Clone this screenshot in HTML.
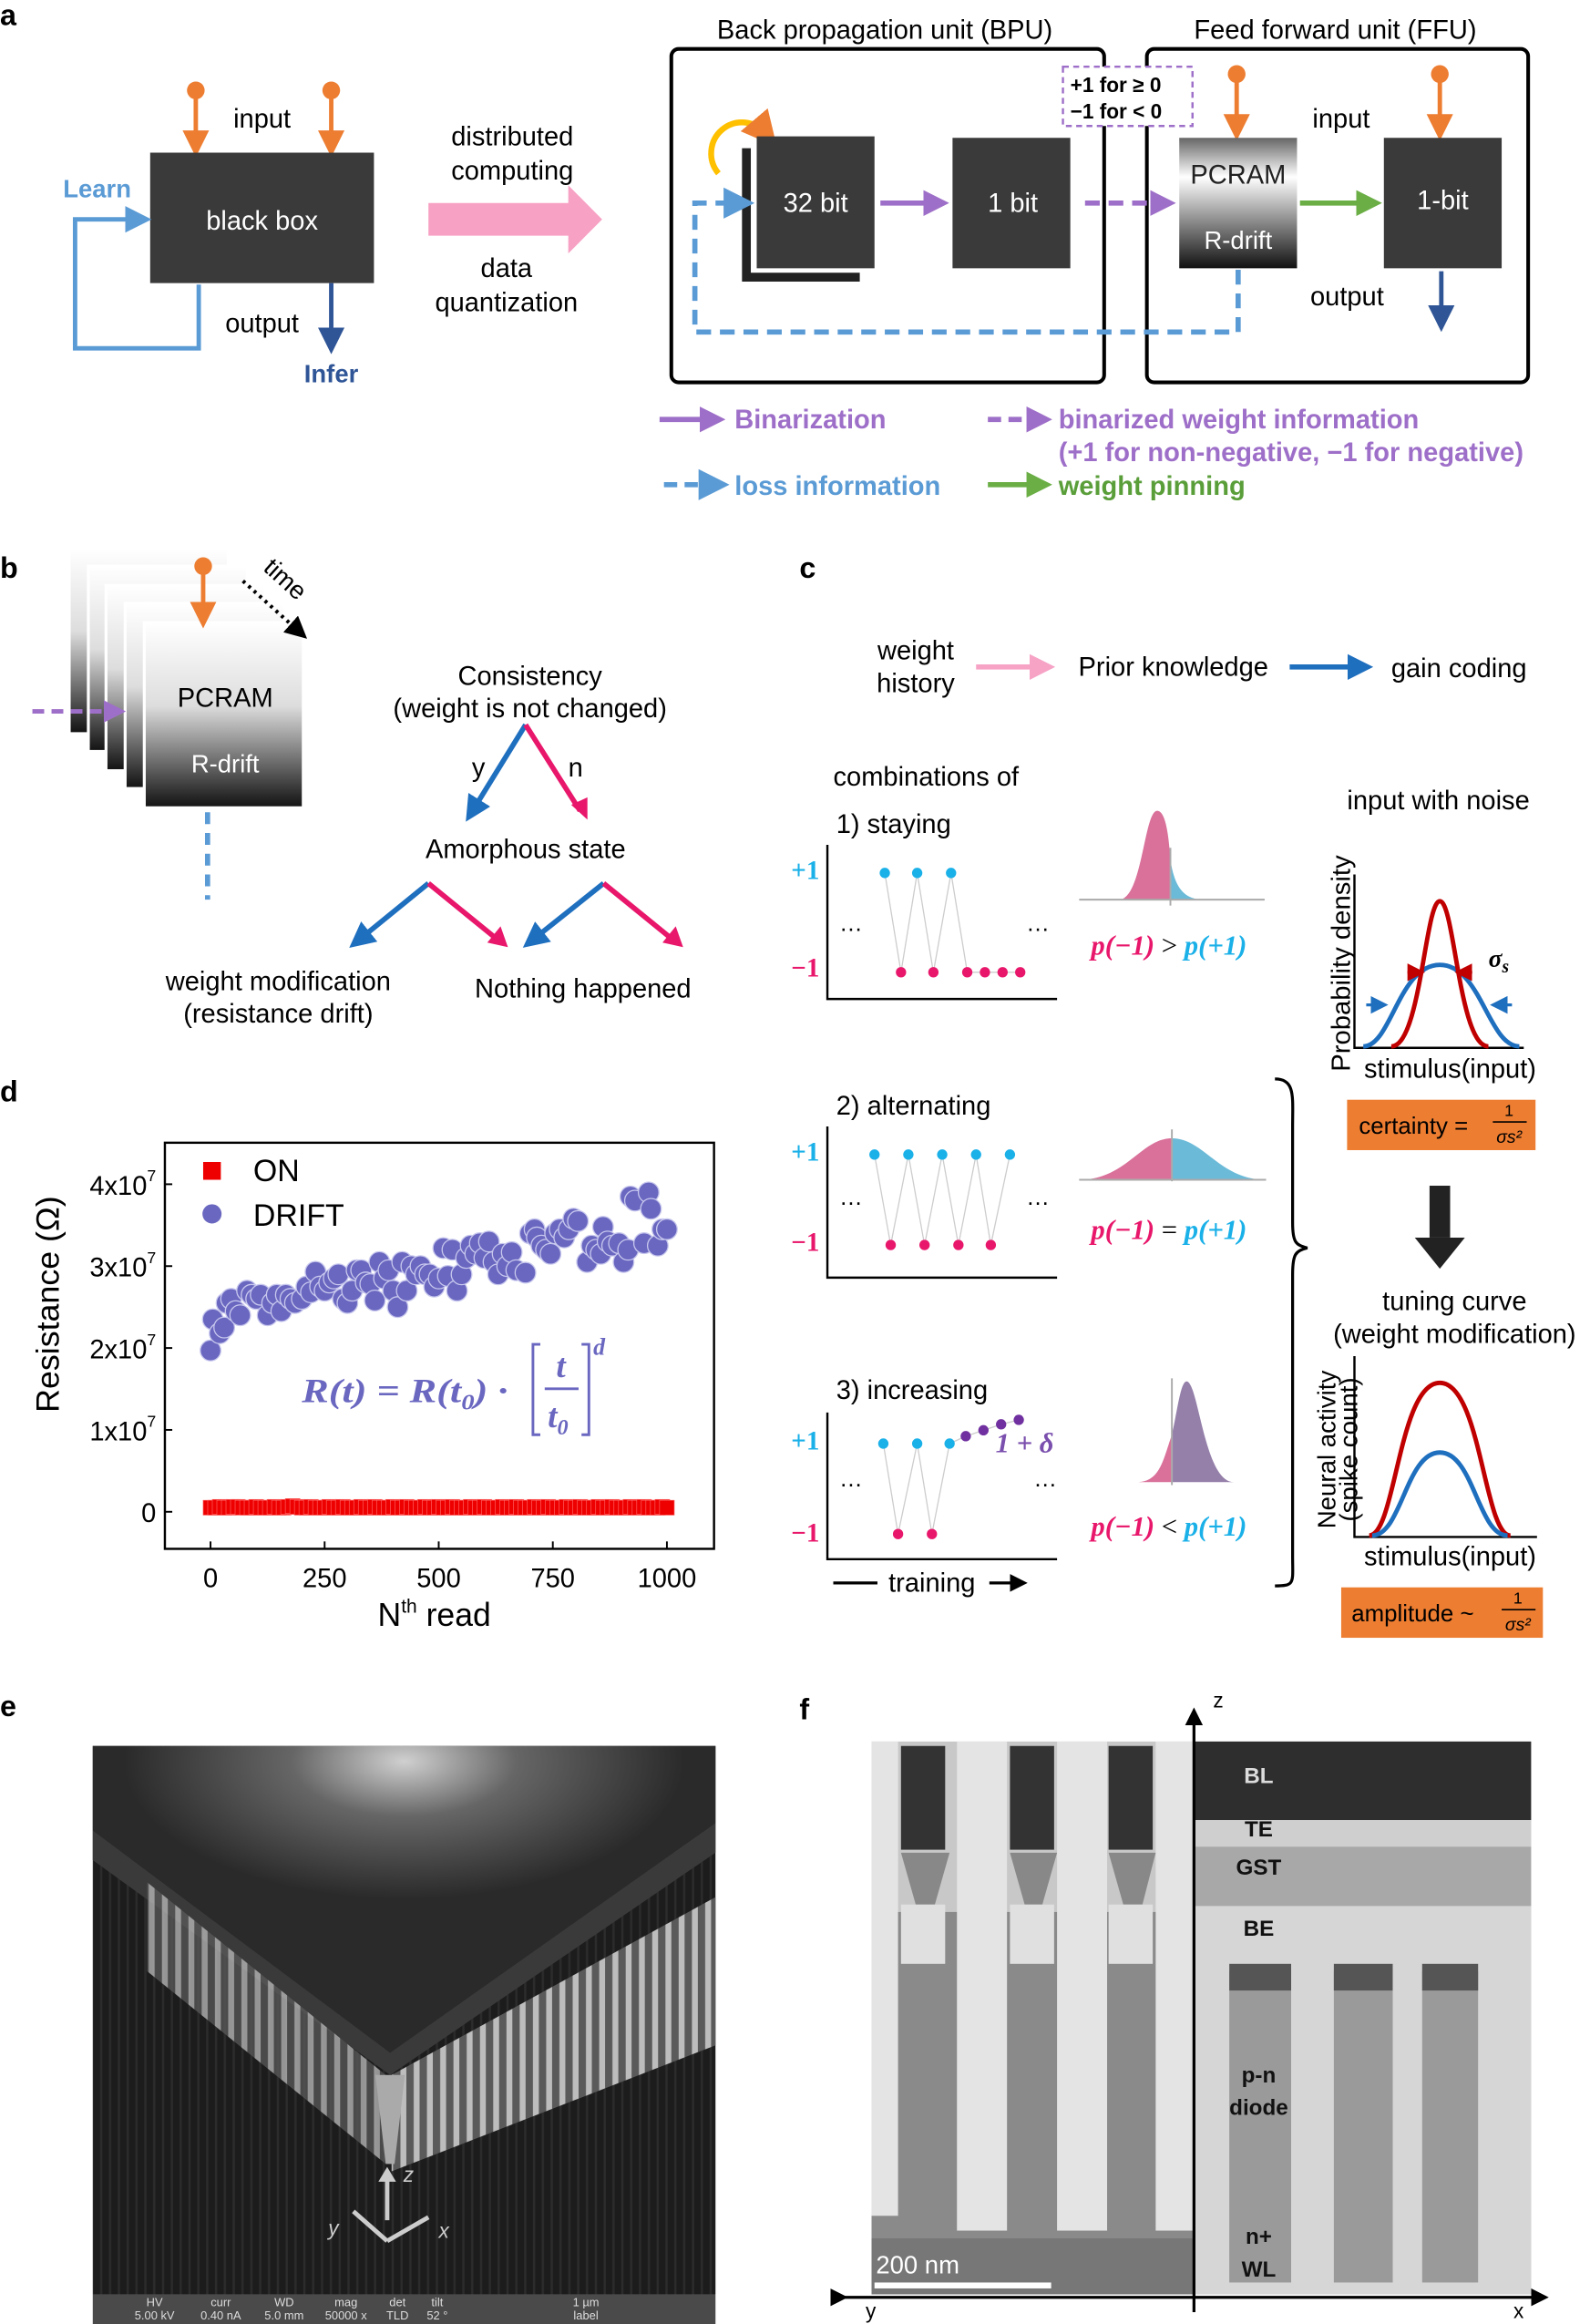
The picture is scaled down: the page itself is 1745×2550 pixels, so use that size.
<!DOCTYPE html>
<html><head><meta charset="utf-8"><style>
html,body{margin:0;padding:0;background:#fff;}
svg{display:block;}
text{font-family:"Liberation Sans",sans-serif;}
.m{font-family:"Liberation Serif",serif;font-weight:bold;font-style:italic;}
</style></head><body>
<svg id="fig" width="1745" height="2550" viewBox="0 0 1080 1568" preserveAspectRatio="none" xmlns="http://www.w3.org/2000/svg">
<defs>
<marker id="aOr" markerWidth="6" markerHeight="6" refX="3" refY="3" orient="auto"><path d="M0,0L6,3L0,6Z" fill="#ed7d31"/></marker>
<marker id="aBl" markerWidth="6" markerHeight="6" refX="3" refY="3" orient="auto"><path d="M0,0L6,3L0,6Z" fill="#5b9bd5"/></marker>
<marker id="aDb" markerWidth="6" markerHeight="6" refX="3" refY="3" orient="auto"><path d="M0,0L6,3L0,6Z" fill="#2f5597"/></marker>
<marker id="aPu" markerWidth="5" markerHeight="5" refX="2.5" refY="2.5" orient="auto"><path d="M0,0L5,2.5L0,5Z" fill="#9e6fc8"/></marker>
<marker id="aGr" markerWidth="5" markerHeight="5" refX="2.5" refY="2.5" orient="auto"><path d="M0,0L5,2.5L0,5Z" fill="#6aae45"/></marker>
<marker id="aPk" markerWidth="5" markerHeight="5" refX="2.5" refY="2.5" orient="auto"><path d="M0,0L5,2.5L0,5Z" fill="#f6a3c6"/></marker>
<marker id="aB2" markerWidth="5" markerHeight="5" refX="2.5" refY="2.5" orient="auto"><path d="M0,0L5,2.5L0,5Z" fill="#1f6fbf"/></marker>
<marker id="aK" markerWidth="6" markerHeight="6" refX="3" refY="3" orient="auto"><path d="M0,0L6,3L0,6Z" fill="#000"/></marker>
<marker id="aRd" markerWidth="6" markerHeight="6" refX="3" refY="3" orient="auto"><path d="M0,0L6,3L0,6Z" fill="#c00000"/></marker>
<marker id="aBb" markerWidth="6" markerHeight="6" refX="3" refY="3" orient="auto"><path d="M0,0L6,3L0,6Z" fill="#1f6fbf"/></marker>
<linearGradient id="pcg" x1="0" y1="0" x2="0" y2="1"><stop offset="0" stop-color="#666"/><stop offset="0.3" stop-color="#fff"/><stop offset="0.6" stop-color="#999"/><stop offset="1" stop-color="#111"/></linearGradient>
<linearGradient id="pcb" x1="0" y1="0" x2="0" y2="1"><stop offset="0" stop-color="#fff"/><stop offset="0.45" stop-color="#ddd"/><stop offset="1" stop-color="#111"/></linearGradient>
<radialGradient id="semg" cx="0.5" cy="0.05" r="0.45"><stop offset="0" stop-color="#d0d0d0"/><stop offset="0.4" stop-color="#666"/><stop offset="1" stop-color="#2a2a2a"/></radialGradient>
<pattern id="stripes" width="9" height="10" patternUnits="userSpaceOnUse"><rect width="9" height="10" fill="#5a5a5a"/><rect x="2" width="4" height="10" fill="#bdbdbd"/></pattern>
<pattern id="stripesD" width="6" height="10" patternUnits="userSpaceOnUse"><rect width="6" height="10" fill="#1c1c1c"/><rect x="2" width="1.5" height="10" fill="#2c2c2c"/></pattern>
</defs>

<!-- Panel a -->
<g>
<text x="0" y="17" font-size="20" font-weight="bold">a</text>
<line x1="133" y1="62" x2="133" y2="97" stroke="#ed7d31" stroke-width="3" marker-end="url(#aOr)"/>
<circle cx="133" cy="61" r="6" fill="#ed7d31"/>
<line x1="225" y1="62" x2="225" y2="97" stroke="#ed7d31" stroke-width="3" marker-end="url(#aOr)"/>
<circle cx="225" cy="61" r="6" fill="#ed7d31"/>
<text x="178" y="86" font-size="18" text-anchor="middle">input</text>
<rect x="102" y="103" width="152" height="88" fill="#3a3a3a"/>
<text x="178" y="155" font-size="18" fill="#fff" text-anchor="middle">black box</text>
<text x="66" y="133" font-size="17" font-weight="bold" fill="#5b9bd5" text-anchor="middle">Learn</text>
<polyline points="135,192 135,235 51,235 51,148 94,148" fill="none" stroke="#5b9bd5" stroke-width="3" marker-end="url(#aBl)"/>
<text x="178" y="224" font-size="18" text-anchor="middle">output</text>
<line x1="225" y1="191" x2="225" y2="230" stroke="#2f5597" stroke-width="3" marker-end="url(#aDb)"/>
<text x="225" y="258" font-size="17" font-weight="bold" fill="#2f5597" text-anchor="middle">Infer</text>
<polygon points="291,137 386,137 386,125 409,148 386,171 386,159 291,159" fill="#f7a1c4"/>
<text x="348" y="98" font-size="18" text-anchor="middle">distributed</text>
<text x="348" y="121" font-size="18" text-anchor="middle">computing</text>
<text x="344" y="187" font-size="18" text-anchor="middle">data</text>
<text x="344" y="210" font-size="18" text-anchor="middle">quantization</text>

<text x="601" y="26" font-size="18" text-anchor="middle">Back propagation unit (BPU)</text>
<rect x="456" y="33" width="294" height="225" rx="5" fill="none" stroke="#000" stroke-width="2.5"/>
<text x="907" y="26" font-size="18" text-anchor="middle">Feed forward unit (FFU)</text>
<rect x="779" y="33" width="259" height="225" rx="5" fill="none" stroke="#000" stroke-width="2.5"/>
<path d="M488,117 A20,20 0 1 1 520,90" fill="none" stroke="#ffc000" stroke-width="4" marker-end="url(#aOr)"/>
<rect x="504" y="100" width="80" height="90" fill="#222"/>
<rect x="510" y="96" width="80" height="88" fill="#fff"/>
<rect x="514" y="92" width="80" height="89" fill="#3a3a3a"/>
<text x="554" y="143" font-size="18" fill="#fff" text-anchor="middle">32 bit</text>
<line x1="598" y1="137" x2="636" y2="137" stroke="#9e6fc8" stroke-width="3.5" marker-end="url(#aPu)"/>
<rect x="647" y="93" width="80" height="88" fill="#3a3a3a"/>
<text x="688" y="143" font-size="18" fill="#fff" text-anchor="middle">1 bit</text>
<line x1="737" y1="137" x2="790" y2="137" stroke="#9e6fc8" stroke-width="3.5" stroke-dasharray="10,6" marker-end="url(#aPu)"/>
<rect x="722" y="45" width="88" height="40" fill="#fff" stroke="#9e6fc8" stroke-width="1.5" stroke-dasharray="4,3"/>
<text x="727" y="62" font-size="14" font-family="Liberation Serif" font-weight="bold">+1 for ≥ 0</text>
<text x="727" y="80" font-size="14" font-family="Liberation Serif" font-weight="bold">−1 for &lt; 0</text>
<line x1="840" y1="54" x2="840" y2="86" stroke="#ed7d31" stroke-width="3" marker-end="url(#aOr)"/>
<circle cx="840" cy="50" r="6" fill="#ed7d31"/>
<line x1="978" y1="54" x2="978" y2="86" stroke="#ed7d31" stroke-width="3" marker-end="url(#aOr)"/>
<circle cx="978" cy="50" r="6" fill="#ed7d31"/>
<text x="911" y="86" font-size="18" text-anchor="middle">input</text>
<rect x="801" y="93" width="80" height="88" fill="url(#pcg)"/>
<text x="841" y="124" font-size="18" text-anchor="middle" fill="#222">PCRAM</text>
<text x="841" y="168" font-size="17" text-anchor="middle" fill="#fff">R-drift</text>
<line x1="883" y1="137" x2="930" y2="137" stroke="#6aae45" stroke-width="3.5" marker-end="url(#aGr)"/>
<rect x="940" y="93" width="80" height="88" fill="#3a3a3a"/>
<text x="980" y="141" font-size="18" fill="#fff" text-anchor="middle">1-bit</text>
<text x="915" y="206" font-size="18" text-anchor="middle">output</text>
<line x1="979" y1="183" x2="979" y2="215" stroke="#2f5597" stroke-width="3" marker-end="url(#aDb)"/>
<polyline points="841,182 841,224 472,224 472,137 502,137" fill="none" stroke="#5b9bd5" stroke-width="3.5" stroke-dasharray="10,6" marker-end="url(#aBl)"/>
<g font-size="18" font-weight="bold">
<line x1="448" y1="283" x2="484" y2="283" stroke="#9e6fc8" stroke-width="3.5" marker-end="url(#aPu)"/>
<text x="499" y="289" fill="#9e6fc8">Binarization</text>
<line x1="671" y1="283" x2="706" y2="283" stroke="#9e6fc8" stroke-width="3.5" stroke-dasharray="9,5" marker-end="url(#aPu)"/>
<text x="719" y="289" fill="#9e6fc8">binarized weight information</text>
<text x="719" y="311" fill="#9e6fc8">(+1 for non-negative, −1 for negative)</text>
<line x1="451" y1="327" x2="485" y2="327" stroke="#5b9bd5" stroke-width="3.5" stroke-dasharray="9,5" marker-end="url(#aBl)"/>
<text x="499" y="334" fill="#5b9bd5">loss information</text>
<line x1="671" y1="327" x2="706" y2="327" stroke="#6aae45" stroke-width="3.5" marker-end="url(#aGr)"/>
<text x="719" y="334" fill="#5a9e3a">weight pinning</text>
</g>
</g>

<!-- Panel b -->
<g>
<text x="0" y="390" font-size="20" font-weight="bold">b</text>
<rect x="47" y="370" width="108" height="125" fill="url(#pcb)" stroke="#fff" stroke-width="2"/>
<rect x="60" y="382" width="108" height="125" fill="url(#pcb)" stroke="#fff" stroke-width="2"/>
<rect x="72" y="395" width="108" height="125" fill="url(#pcb)" stroke="#fff" stroke-width="2"/>
<rect x="85" y="407" width="108" height="125" fill="url(#pcb)" stroke="#fff" stroke-width="2"/>
<rect x="98" y="420" width="108" height="125" fill="url(#pcb)" stroke="#fff" stroke-width="2"/>
<text x="153" y="477" font-size="18" text-anchor="middle">PCRAM</text>
<text x="153" y="521" font-size="17" text-anchor="middle" fill="#fff">R-drift</text>
<line x1="138" y1="386" x2="138" y2="415" stroke="#ed7d31" stroke-width="3" marker-end="url(#aOr)"/>
<circle cx="138" cy="382" r="6" fill="#ed7d31"/>
<line x1="165" y1="392" x2="203" y2="426" stroke="#000" stroke-width="2.5" stroke-dasharray="2,3" marker-end="url(#aK)"/>
<text x="190" y="395" font-size="17" transform="rotate(42 190 395)" text-anchor="middle">time</text>
<line x1="22" y1="480" x2="78" y2="480" stroke="#9e6fc8" stroke-width="3" stroke-dasharray="8,5" marker-end="url(#aPu)"/>
<line x1="141" y1="548" x2="141" y2="607" stroke="#5b9bd5" stroke-width="3.5" stroke-dasharray="8,6"/>
<text x="360" y="462" font-size="18" text-anchor="middle">Consistency</text>
<text x="360" y="484" font-size="18" text-anchor="middle">(weight is not changed)</text>
<line x1="357" y1="489" x2="321" y2="547" stroke="#1f6fbf" stroke-width="3.5" marker-end="url(#aB2)"/>
<line x1="357" y1="489" x2="394" y2="547" stroke="#e8176b" stroke-width="3.5"/>
<polygon points="388,543 399,553 399,538" fill="#e8176b"/>
<text x="325" y="524" font-size="18" text-anchor="middle">y</text>
<text x="391" y="524" font-size="18" text-anchor="middle">n</text>
<text x="357" y="579" font-size="18" text-anchor="middle">Amorphous state</text>
<line x1="291" y1="596" x2="244" y2="634" stroke="#1f6fbf" stroke-width="3.5" marker-end="url(#aB2)"/>
<line x1="291" y1="596" x2="338" y2="634" stroke="#e8176b" stroke-width="3.5"/>
<polygon points="331,636 345,639 340,625" fill="#e8176b"/>
<line x1="410" y1="596" x2="362" y2="634" stroke="#1f6fbf" stroke-width="3.5" marker-end="url(#aB2)"/>
<line x1="410" y1="596" x2="457" y2="634" stroke="#e8176b" stroke-width="3.5"/>
<polygon points="450,636 464,639 459,625" fill="#e8176b"/>
<text x="189" y="668" font-size="18" text-anchor="middle">weight modification</text>
<text x="189" y="690" font-size="18" text-anchor="middle">(resistance drift)</text>
<text x="396" y="673" font-size="18" text-anchor="middle">Nothing happened</text>
</g>

<!-- Panel c -->
<g>
<text x="543" y="390" font-size="20" font-weight="bold">c</text>
<text x="622" y="445" font-size="18" text-anchor="middle">weight</text>
<text x="622" y="467" font-size="18" text-anchor="middle">history</text>
<line x1="663" y1="450" x2="708" y2="450" stroke="#f6a3c6" stroke-width="3.5" marker-end="url(#aPk)"/>
<text x="797" y="456" font-size="18" text-anchor="middle">Prior knowledge</text>
<line x1="876" y1="450" x2="924" y2="450" stroke="#1f6fbf" stroke-width="3.5" marker-end="url(#aB2)"/>
<text x="991" y="457" font-size="18" text-anchor="middle">gain coding</text>
<text x="629" y="530" font-size="18" text-anchor="middle">combinations of</text>

<text x="568" y="562" font-size="18">1) staying</text>
<polyline points="562,570 562,674 718,674" fill="none" stroke="#000" stroke-width="1.5"/>
<text x="547" y="593" font-size="18" fill="#1ab0e8" text-anchor="middle" class="m" style="font-style:normal">+1</text>
<text x="547" y="659" font-size="18" fill="#e8176b" text-anchor="middle" class="m" style="font-style:normal">−1</text>
<polyline points="601,589 612,656 623,589 634,656 646,589 657,656 693,656" fill="none" stroke="#ccc" stroke-width="0.8"/>
<g fill="#1ab0e8"><circle cx="601" cy="589" r="3.5"/><circle cx="623" cy="589" r="3.5"/><circle cx="646" cy="589" r="3.5"/></g>
<g fill="#e8176b"><circle cx="612" cy="656" r="3.5"/><circle cx="634" cy="656" r="3.5"/><circle cx="657" cy="656" r="3.5"/><circle cx="669" cy="656" r="3.5"/><circle cx="681" cy="656" r="3.5"/><circle cx="693" cy="656" r="3.5"/></g>
<text x="578" y="628" font-size="16" text-anchor="middle">…</text>
<text x="705" y="628" font-size="16" text-anchor="middle">…</text>
<path d="M733,607 L760,607 C776,607 777,547 786,547 C792,547 794,565 795,580 L795,607Z" fill="#d9719a"/>
<path d="M795,580 C798,600 805,607 818,607 L795,607Z" fill="#6bbad8"/>
<line x1="733" y1="607" x2="859" y2="607" stroke="#aaa" stroke-width="1.2"/>
<line x1="795" y1="572" x2="795" y2="611" stroke="#aaa" stroke-width="1.2"/>
<text x="794" y="644" font-size="19" text-anchor="middle" class="m"><tspan fill="#e8176b">p(−1)</tspan><tspan fill="#000" font-style="normal" font-weight="normal"> &gt; </tspan><tspan fill="#1ab0e8">p(+1)</tspan></text>

<text x="568" y="752" font-size="18">2)  alternating</text>
<polyline points="562,760 562,862 718,862" fill="none" stroke="#000" stroke-width="1.5"/>
<text x="547" y="783" font-size="18" fill="#1ab0e8" text-anchor="middle" class="m" style="font-style:normal">+1</text>
<text x="547" y="844" font-size="18" fill="#e8176b" text-anchor="middle" class="m" style="font-style:normal">−1</text>
<polyline points="594,779 605,840 617,779 628,840 640,779 651,840 663,779 673,840 686,779" fill="none" stroke="#ccc" stroke-width="0.8"/>
<g fill="#1ab0e8"><circle cx="594" cy="779" r="3.5"/><circle cx="617" cy="779" r="3.5"/><circle cx="640" cy="779" r="3.5"/><circle cx="663" cy="779" r="3.5"/><circle cx="686" cy="779" r="3.5"/></g>
<g fill="#e8176b"><circle cx="605" cy="840" r="3.5"/><circle cx="628" cy="840" r="3.5"/><circle cx="651" cy="840" r="3.5"/><circle cx="673" cy="840" r="3.5"/></g>
<text x="578" y="813" font-size="16" text-anchor="middle">…</text>
<text x="705" y="813" font-size="16" text-anchor="middle">…</text>
<path d="M733,796 C765,796 775,768 796,768 L796,796Z" fill="#d9719a"/>
<path d="M796,768 C818,768 828,796 860,796 L796,796Z" fill="#6bbad8"/>
<line x1="733" y1="796" x2="860" y2="796" stroke="#aaa" stroke-width="1.2"/>
<line x1="796" y1="762" x2="796" y2="797" stroke="#aaa" stroke-width="1.2"/>
<text x="794" y="836" font-size="19" text-anchor="middle" class="m"><tspan fill="#e8176b">p(−1)</tspan><tspan fill="#000" font-style="normal" font-weight="normal"> = </tspan><tspan fill="#1ab0e8">p(+1)</tspan></text>

<text x="568" y="944" font-size="18">3) increasing</text>
<polyline points="562,953 562,1052 718,1052" fill="none" stroke="#000" stroke-width="1.5"/>
<text x="547" y="978" font-size="18" fill="#1ab0e8" text-anchor="middle" class="m" style="font-style:normal">+1</text>
<text x="547" y="1040" font-size="18" fill="#e8176b" text-anchor="middle" class="m" style="font-style:normal">−1</text>
<polyline points="600,974 610,1035 623,974 633,1035 645,974 656,969 668,965 680,961 692,958" fill="none" stroke="#ccc" stroke-width="0.8"/>
<g fill="#1ab0e8"><circle cx="600" cy="974" r="3.5"/><circle cx="623" cy="974" r="3.5"/><circle cx="645" cy="974" r="3.5"/></g>
<g fill="#e8176b"><circle cx="610" cy="1035" r="3.5"/><circle cx="633" cy="1035" r="3.5"/></g>
<g fill="#7030a0"><circle cx="656" cy="969" r="3.5"/><circle cx="668" cy="965" r="3.5"/><circle cx="680" cy="961" r="3.5"/><circle cx="692" cy="958" r="3.5"/></g>
<text x="696" y="980" font-size="19" fill="#7a4fad" text-anchor="middle" class="m">1 + δ</text>
<text x="578" y="1003" font-size="16" text-anchor="middle">…</text>
<text x="710" y="1003" font-size="16" text-anchor="middle">…</text>
<path d="M772,1000 C788,1000 790,985 796,968 L796,1000Z" fill="#d9719a"/>
<path d="M796,968 C800,950 802,932 806,932 C814,932 818,1000 838,1000 L796,1000Z" fill="#9580aa"/>
<line x1="796" y1="930" x2="796" y2="1002" stroke="#aaa" stroke-width="1.2"/>
<text x="794" y="1036" font-size="19" text-anchor="middle" class="m"><tspan fill="#e8176b">p(−1)</tspan><tspan fill="#000" font-style="normal" font-weight="normal"> &lt; </tspan><tspan fill="#1ab0e8">p(+1)</tspan></text>
<line x1="566" y1="1068" x2="596" y2="1068" stroke="#000" stroke-width="2"/>
<text x="633" y="1074" font-size="18" text-anchor="middle">training</text>
<line x1="672" y1="1068" x2="692" y2="1068" stroke="#000" stroke-width="2" marker-end="url(#aK)"/>

<path d="M866,728 C880,728 878,740 878,760 L878,825 C878,838 880,840 888,842 C880,844 878,846 878,860 L878,1050 C878,1068 880,1070 866,1070" fill="none" stroke="#000" stroke-width="2"/>

<text x="977" y="546" font-size="18" text-anchor="middle">input with noise</text>
<polyline points="920,590 920,707 1035,707" fill="none" stroke="#000" stroke-width="1.5"/>
<text x="917" y="650" font-size="18" text-anchor="middle" transform="rotate(-90 917 650)">Probability density</text>
<path d="M926,706 C945,706 950,651 978,651 C1006,651 1011,706 1032,706" fill="none" stroke="#1f6fbf" stroke-width="3"/>
<path d="M945,706 C965,706 968,608 978,608 C988,608 991,706 1011,706" fill="none" stroke="#c00000" stroke-width="3"/>
<line x1="956" y1="656" x2="962" y2="656" stroke="#c00000" stroke-width="2" marker-end="url(#aRd)"/>
<line x1="1000" y1="656" x2="994" y2="656" stroke="#c00000" stroke-width="2" marker-end="url(#aRd)"/>
<line x1="928" y1="678" x2="937" y2="678" stroke="#1f6fbf" stroke-width="2" marker-end="url(#aBb)"/>
<line x1="1027" y1="678" x2="1018" y2="678" stroke="#1f6fbf" stroke-width="2" marker-end="url(#aBb)"/>
<text x="1018" y="652" font-size="17" class="m" font-weight="normal" text-anchor="middle">σ<tspan font-size="12" dy="4">s</tspan></text>
<text x="985" y="727" font-size="18" text-anchor="middle">stimulus(input)</text>
<rect x="915" y="742" width="128" height="34" fill="#ed7d31"/>
<text x="923" y="765" font-size="16">certainty =</text>
<text x="1025" y="753" font-size="11" font-family="Liberation Serif" text-anchor="middle">1</text>
<line x1="1014" y1="757" x2="1037" y2="757" stroke="#000" stroke-width="1"/>
<text x="1025" y="771" font-size="12" font-family="Liberation Serif" font-style="italic" text-anchor="middle">σs²</text>
<rect x="971" y="800" width="14" height="35" fill="#222"/>
<polygon points="961,835 995,835 978,856" fill="#222"/>
<text x="988" y="884" font-size="18" text-anchor="middle">tuning curve</text>
<text x="988" y="906" font-size="18" text-anchor="middle">(weight modification)</text>
<polyline points="920,915 920,1037 1044,1037" fill="none" stroke="#000" stroke-width="1.5"/>
<text x="907" y="978" font-size="17" text-anchor="middle" transform="rotate(-90 907 978)">Neural activity</text>
<text x="922" y="978" font-size="17" text-anchor="middle" transform="rotate(-90 922 978)">(spike count)</text>
<path d="M930,1036 C948,1036 950,933 978,933 C1006,933 1008,1036 1026,1036" fill="none" stroke="#c00000" stroke-width="3"/>
<path d="M932,1036 C952,1036 955,980 978,980 C1001,980 1004,1036 1024,1036" fill="none" stroke="#1f6fbf" stroke-width="3"/>
<text x="985" y="1056" font-size="18" text-anchor="middle">stimulus(input)</text>
<rect x="911" y="1071" width="137" height="34" fill="#ed7d31"/>
<text x="918" y="1094" font-size="16">amplitude ~</text>
<text x="1031" y="1082" font-size="11" font-family="Liberation Serif" text-anchor="middle">1</text>
<line x1="1020" y1="1086" x2="1043" y2="1086" stroke="#000" stroke-width="1"/>
<text x="1031" y="1100" font-size="12" font-family="Liberation Serif" font-style="italic" text-anchor="middle">σs²</text>
</g>

<!-- Panel d -->
<g id="pd">
<text x="0" y="743" font-size="20" font-weight="bold">d</text>
<rect x="112" y="771" width="373" height="274" fill="none" stroke="#000" stroke-width="1.5"/>
<text x="40" y="880" font-size="22" text-anchor="middle" transform="rotate(-90 40 880)">Resistance (Ω)</text>
<text x="295" y="1097" font-size="22" text-anchor="middle">N<tspan font-size="13" dy="-9">th</tspan><tspan dy="9"> read</tspan></text>
<rect x="138" y="784" width="12" height="12" fill="#ee0000"/>
<text x="172" y="797" font-size="21">ON</text>
<circle cx="144" cy="819" r="6.5" fill="#6a67c0"/>
<text x="172" y="827" font-size="21">DRIFT</text>
<g id="marks"></g>
<g>
<text x="205" y="946" font-size="23" fill="#6a67c0" class="m" textLength="140" lengthAdjust="spacingAndGlyphs">R(t) = R(t<tspan font-size="15" dy="5">0</tspan><tspan dy="-5">) ·</tspan></text>
<path d="M367,907 L362,907 L362,968 L367,968 M395,907 L400,907 L400,968 L395,968" fill="none" stroke="#6a67c0" stroke-width="1.8"/>
<text x="381" y="929" font-size="23" fill="#6a67c0" text-anchor="middle" class="m">t</text>
<line x1="370" y1="937" x2="393" y2="937" stroke="#6a67c0" stroke-width="1.8"/>
<text x="379" y="963" font-size="23" fill="#6a67c0" text-anchor="middle" class="m">t<tspan font-size="15" dy="5">0</tspan></text>
<text x="403" y="914" font-size="16" fill="#6a67c0" class="m">d</text>
</g>
</g>

<!-- Panel e -->
<g>
<text x="0" y="1158" font-size="20" font-weight="bold">e</text>
<rect x="63" y="1178" width="423" height="370" fill="url(#stripesD)"/>
<path d="M63,1178 L486,1178 L486,1230 L265,1385 L63,1235Z" fill="url(#semg)"/>
<path d="M63,1235 L265,1385 L486,1230 L486,1250 L265,1400 L63,1255Z" fill="#3a3a3a"/>
<path d="M100,1270 L262,1400 L262,1460 L100,1330Z" fill="url(#stripes)" opacity="0.75"/>
<path d="M266,1400 L486,1280 L486,1380 L266,1465Z" fill="url(#stripes)"/>
<path d="M255,1400 L275,1400 L268,1460 L262,1460Z" fill="#aaa"/>
<line x1="263" y1="1498" x2="263" y2="1470" stroke="#ccc" stroke-width="3"/>
<polygon points="257,1472 269,1472 263,1462" fill="#ccc"/>
<line x1="263" y1="1512" x2="240" y2="1492" stroke="#ccc" stroke-width="3"/>
<line x1="263" y1="1512" x2="291" y2="1496" stroke="#ccc" stroke-width="3"/>
<text x="274" y="1472" font-size="14" fill="#ccc" font-style="italic">z</text>
<text x="223" y="1508" font-size="14" fill="#ccc" font-style="italic">y</text>
<text x="298" y="1510" font-size="14" fill="#ccc" font-style="italic">x</text>
<rect x="63" y="1548" width="423" height="20" fill="#4a4a4a"/>
<g font-size="8" fill="#ddd" text-anchor="middle">
<text x="105" y="1556">HV</text><text x="105" y="1565">5.00 kV</text>
<text x="150" y="1556">curr</text><text x="150" y="1565">0.40 nA</text>
<text x="193" y="1556">WD</text><text x="193" y="1565">5.0 mm</text>
<text x="235" y="1556">mag</text><text x="235" y="1565">50000 x</text>
<text x="270" y="1556">det</text><text x="270" y="1565">TLD</text>
<text x="297" y="1556">tilt</text><text x="297" y="1565">52 °</text>
<text x="398" y="1556">1 µm</text><text x="398" y="1565">label</text>
</g>
</g>

<!-- Panel f -->
<g>
<text x="543" y="1160" font-size="20" font-weight="bold">f</text>
<rect x="592" y="1175" width="448" height="373" fill="#c8c8c8"/>
<rect x="592" y="1290" width="219" height="220" fill="#8a8a8a"/>
<rect x="592" y="1510" width="219" height="38" fill="#777"/>
<g fill="#e4e4e4">
<rect x="592" y="1175" width="18" height="320"/><rect x="650" y="1175" width="34" height="330"/><rect x="718" y="1175" width="34" height="330"/><rect x="785" y="1175" width="26" height="330"/>
</g>
<g fill="#333"><rect x="612" y="1178" width="30" height="70"/><rect x="686" y="1178" width="30" height="70"/><rect x="753" y="1178" width="30" height="70"/></g>
<g fill="#888"><polygon points="612,1250 645,1250 635,1285 622,1285"/><polygon points="686,1250 718,1250 708,1285 696,1285"/><polygon points="753,1250 785,1250 776,1285 763,1285"/></g>
<g fill="#e0e0e0"><rect x="612" y="1285" width="30" height="40"/><rect x="686" y="1285" width="30" height="40"/><rect x="753" y="1285" width="30" height="40"/></g>
<rect x="811" y="1175" width="229" height="53" fill="#2e2e2e"/>
<rect x="811" y="1228" width="229" height="18" fill="#cfcfcf"/>
<rect x="811" y="1246" width="229" height="40" fill="#a8a8a8"/>
<rect x="811" y="1286" width="229" height="262" fill="#d6d6d6"/>
<g fill="#9a9a9a"><rect x="835" y="1330" width="42" height="210"/><rect x="906" y="1330" width="40" height="210"/><rect x="966" y="1330" width="38" height="210"/></g>
<g fill="#555"><rect x="835" y="1325" width="42" height="18"/><rect x="906" y="1325" width="40" height="18"/><rect x="966" y="1325" width="38" height="18"/></g>
<g font-size="15" font-weight="bold" fill="#111" text-anchor="middle" font-family="DejaVu Sans">
<text x="855" y="1203" fill="#ddd">BL</text><text x="855" y="1239">TE</text><text x="855" y="1265">GST</text><text x="855" y="1306">BE</text>
<text x="855" y="1405">p-n</text><text x="855" y="1427">diode</text><text x="855" y="1514">n+</text><text x="855" y="1536">WL</text>
</g>
<text x="595" y="1534" font-size="17" fill="#fff">200 nm</text>
<rect x="594" y="1540" width="120" height="4" fill="#fff"/>
<line x1="811" y1="1560" x2="811" y2="1158" stroke="#000" stroke-width="2" marker-end="url(#aK)"/>
<text x="824" y="1152" font-size="14">z</text>
<line x1="570" y1="1550" x2="1046" y2="1550" stroke="#000" stroke-width="2" marker-end="url(#aK)" marker-start="url(#aK)"/>
<text x="588" y="1564" font-size="14">y</text>
<text x="1028" y="1564" font-size="14">x</text>
</g>
</svg>
<script>
var drift_x=[0,5,20,30,35,45,55,65,80,90,100,110,125,135,145,155,165,175,185,200,210,220,230,240,250,260,270,280,290,300,310,320,330,340,350,360,370,380,390,400,410,420,430,440,450,460,470,480,490,500,510,520,530,540,550,560,570,580,590,600,610,620,630,640,650,660,670,690,700,710,715,725,735,745,755,765,775,785,795,805,825,835,845,855,860,870,880,895,905,915,920,930,950,960,965,980,990,1000];
var drift_y=[19.7,23.5,21.8,22.5,25.5,26,24.5,24,27,26.5,26,26.5,24,25.5,26.5,24.5,26.5,26,25.5,26,27.5,26.8,29.3,27.5,27,28,28.5,29,26,25.5,27,29.5,29.5,28,27.8,25.8,30.5,28.5,29.5,27,25,30.5,27,30,29,30,29,29,27.5,28.5,32.2,28.8,32,27,29,31,32.5,31.5,32.8,31,33,30.5,29,31.5,30,31.7,29.5,29.2,34,34.5,33.5,32.5,32,31.5,34,34.5,33.5,34.5,35.8,35.5,30.5,32.5,32,31.5,34.8,33,32.5,32.8,30.5,32,38.5,38,32.8,39,37,32.5,34.5,34.5];
var on_x=[0,10,20,30,40,50,60,70,80,90,100,110,120,130,140,150,160,170,180,190,200,210,220,230,240,250,260,270,280,290,300,310,320,330,340,350,360,370,380,390,400,410,420,430,440,450,460,470,480,490,500,510,520,530,540,550,560,570,580,590,600,610,620,630,640,650,660,670,680,690,700,710,720,730,740,750,760,770,780,790,800,810,820,830,840,850,860,870,880,890,900,910,920,930,940,950,960,970,980,990,1000];
var on_y=[0.5,0.5,0.6,0.5,0.5,0.6,0.6,0.5,0.5,0.5,0.6,0.5,0.5,0.5,0.6,0.5,0.5,0.6,0.7,0.6,0.5,0.5,0.6,0.5,0.5,0.5,0.6,0.5,0.5,0.6,0.5,0.5,0.5,0.6,0.5,0.5,0.6,0.5,0.5,0.5,0.6,0.5,0.5,0.6,0.5,0.5,0.5,0.6,0.5,0.5,0.6,0.5,0.5,0.6,0.5,0.5,0.5,0.6,0.5,0.5,0.6,0.5,0.5,0.5,0.6,0.5,0.5,0.6,0.5,0.5,0.5,0.6,0.5,0.5,0.6,0.5,0.5,0.5,0.6,0.5,0.5,0.6,0.5,0.5,0.5,0.6,0.5,0.5,0.6,0.5,0.5,0.5,0.6,0.5,0.5,0.6,0.5,0.5,0.5,0.6,0.5];
var x_ticks=[0,250,500,750,1000];
var y_ticks=[0,10,20,30,40];
var y_tick_labels=["0","1x10","2x10","3x10","4x10"];
var NS="http://www.w3.org/2000/svg";
function sx(v){return 143+v*(453-143)/1000;}
function sy(v){return 1020-v*(1020-799)/40;}
var g=document.getElementById('marks');
function mk(t,a,p){var e=document.createElementNS(NS,t);for(var k in a)e.setAttribute(k,a[k]);(p||g).appendChild(e);return e;}
for(var i=0;i<x_ticks.length;i++){
 var t=mk('line',{x1:sx(x_ticks[i]),x2:sx(x_ticks[i]),y1:1045,y2:1040,stroke:'#000','stroke-width':1.2});
 
 
 var l=mk('text',{x:sx(x_ticks[i]),y:1071,'font-size':18,'text-anchor':'middle'});
 l.textContent=x_ticks[i];
 
 
}
for(var i=0;i<y_ticks.length;i++){
 var t=mk('line',{x1:112,x2:117,y1:sy(y_ticks[i]),y2:sy(y_ticks[i]),stroke:'#000','stroke-width':1.2});
 
 
 var l=mk('text',{x:106,y:sy(y_ticks[i])+7,'font-size':18,'text-anchor':'end'});
 l.textContent=y_tick_labels[i];
 if(i>0){var s=document.createElementNS(NS,'tspan');s.setAttribute('font-size','11');s.setAttribute('dy','-9');s.textContent='7';l.appendChild(s);}
 
 
}
for(var i=0;i<on_x.length;i++){
 var r=mk('rect',{x:sx(on_x[i])-5,y:sy(on_y[i])-5,width:10,height:10,fill:'#ee0000',stroke:'#ff6666','stroke-width':0.4});
 
 
}
for(var i=0;i<drift_x.length;i++){
 var c=mk('circle',{cx:sx(drift_x[i]),cy:sy(drift_y[i]),r:7,fill:'#6a67c0',stroke:'#c8c8ee','stroke-width':0.8});
 
 
}
</script>
</body></html>
